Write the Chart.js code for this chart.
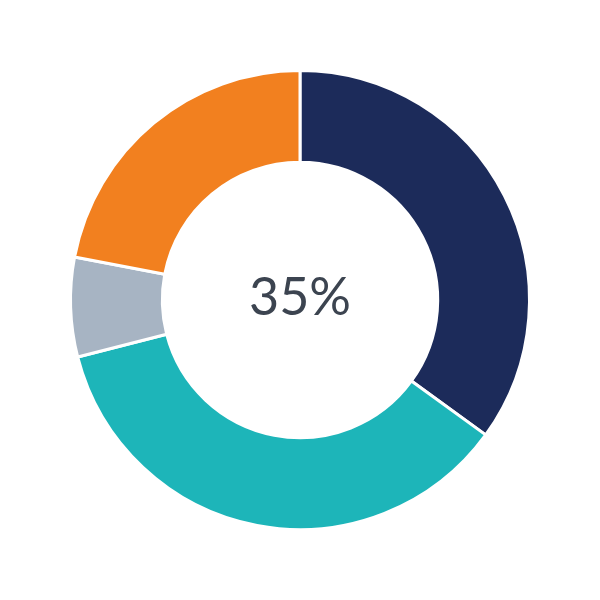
<!DOCTYPE html>
<html><head><meta charset="utf-8">
<script src="https://cdn.jsdelivr.net/npm/chart.js@4"></script>
<style>html,body{margin:0;padding:0;background:#fff}#wrap{width:600px;height:600px;position:relative}</style>
</head><body><div id="wrap"><canvas id="c" width="600" height="600"></canvas></div>
<script>
const categories = ['A', 'B', 'C', 'D'];
const values = [35, 36, 7, 22];
const colors = ['#1c2b5a', '#1db5b9', '#a7b4c3', '#f2801f'];
const centerLabel = '35%';

const centerText = {
  id: 'centerText',
  afterDraw(chart) {
    const {ctx} = chart;
    const m = chart.getDatasetMeta(0).data[0];
    ctx.save();
    ctx.font = '400 52px Lato';
    ctx.fillStyle = '#3c4450';
    ctx.textAlign = 'center';
    ctx.textBaseline = 'middle';
    ctx.fillText(centerLabel, m.x, m.y - 2);
    ctx.restore();
  }
};

new Chart(document.getElementById('c'), {
  type: 'doughnut',
  data: { labels: categories, datasets: [{ data: values, backgroundColor: colors, borderColor: '#ffffff', borderWidth: 3 }] },
  options: {
    responsive: false, animation: false, cutout: '60%',
    layout: { padding: 69 },
    plugins: { legend: { display: false }, tooltip: { enabled: false } }
  },
  plugins: [centerText]
});
</script></body></html>
